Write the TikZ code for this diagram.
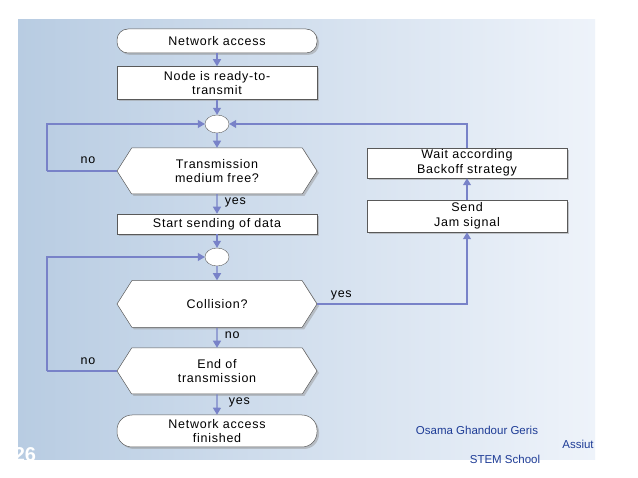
\documentclass[tikz,border=0pt]{standalone}
\usepackage{fontspec}
\setmainfont{Liberation Sans}
\newfontfamily\wide[LetterSpace=6]{Liberation Sans}
\usetikzlibrary{shapes.geometric,shapes.symbols,arrows.meta,shadows}
\definecolor{ln}{RGB}{120,130,200}
\definecolor{bgL}{RGB}{184,204,226}
\definecolor{bgR}{RGB}{238,243,250}
\definecolor{auth}{RGB}{30,60,150}
\begin{document}
\begin{tikzpicture}[x=1pt,y=-1pt,
  base/.style={draw=gray!70!black,fill=white,line width=0.5pt,font=\wide\fontsize{12.5}{14.5}\selectfont,align=center,drop shadow={shadow xshift=2pt,shadow yshift=-2pt,fill=gray!80}},
  term/.style={base,rounded corners=11pt,minimum width=200pt},
  box/.style={base,minimum width=200pt},
  hex/.style={base,signal,signal to=east and west,signal pointer angle=115,minimum width=200pt,minimum height=46pt,inner sep=1pt},
  junc/.style={draw=gray!70!black,fill=white,ellipse,minimum width=24pt,minimum height=18pt,inner sep=0},
  con/.style={draw=ln,line width=1.2pt,-{Triangle[length=7pt,width=8pt]}},
  lab/.style={font=\wide\fontsize{12.5}{14}\selectfont}]
\useasboundingbox (0,0) rectangle (638,478);
\fill[white] (0,0) rectangle (638,478);
\shade[left color=bgL,right color=bgR] (18,20) rectangle (595,460);
\node[term,minimum height=24pt] (na) at (217,41) {Network access};
\node[box,minimum height=33pt] (rdy) at (217,83) {Node is ready-to-\\transmit};
\node[junc] (j1) at (217,124) {};
\node[hex] (free) at (217,171) {Transmission\\medium free?};
\node[box,minimum height=20pt,inner sep=2pt] (start) at (217,224) {Start sending of data};
\node[junc] (j2) at (217,257) {};
\node[hex,minimum height=47pt] (col) at (217,304) {Collision?};
\node[hex] (end) at (217,371) {End of\\transmission};
\node[term,minimum height=32pt,rounded corners=15pt,inner sep=1pt] (fin) at (217,431) {Network access\\finished};
\node[box,minimum height=30pt,inner sep=1pt] (wait) at (467,163) {Wait according\\Backoff strategy};
\node[box,minimum height=32pt,inner sep=1pt] (jam) at (467,216) {Send\\Jam signal};
\coordinate (l1) at (47,171);
\coordinate (l2) at (47,371);
\draw[con] (na) -- (rdy);
\draw[con] (rdy) -- (j1);
\draw[con] (j1) -- (free);
\draw[con] (free) -- node[lab,right,pos=0.4,xshift=4pt]{yes} (start);
\draw[con] (start) -- (j2);
\draw[con] (j2) -- (col);
\draw[con] (col) -- node[lab,right,pos=0.35,xshift=4pt]{no} (end);
\draw[con] (end) -- node[lab,right,pos=0.4,xshift=8pt]{yes} (fin);
\draw[con,-] (free.west) -- (l1);
\draw[con] (l1) |- (j1.west);
\node[lab] at (88,160) {no};
\draw[con,-] (end.west) -- (l2);
\draw[con] (l2) |- (j2.west);
\node[lab] at (88,361) {no};
\draw[con] (col.east) -| node[lab,pos=0.08,above]{yes} (jam.south);
\draw[con] (jam) -- (wait);
\draw[con] (wait.north) |- (j1.east);
\node[font=\fontsize{11.5}{13}\selectfont,text=auth] at (477,430) {Osama Ghandour Geris};
\node[font=\fontsize{11.5}{13}\selectfont,text=auth] at (578,444) {Assiut};
\node[font=\fontsize{11.5}{13}\selectfont,text=auth] at (505,459) {STEM School};
\node[font=\bfseries\fontsize{20}{22}\selectfont,text=white] at (25,455) {26};
\end{tikzpicture}
\end{document}
